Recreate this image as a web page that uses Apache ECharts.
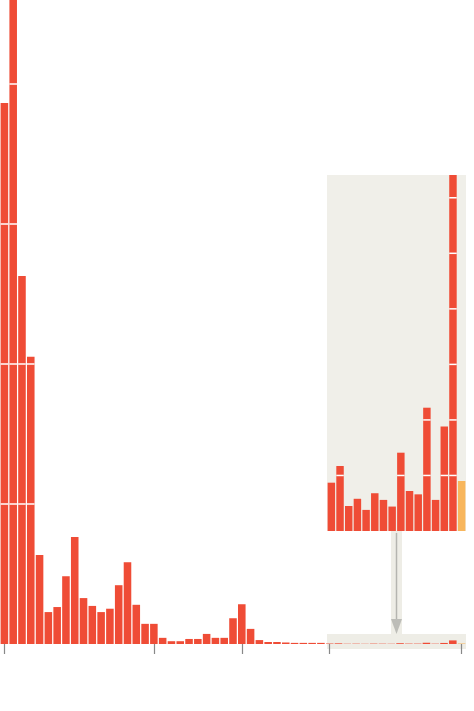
<!DOCTYPE html><html><head><meta charset="utf-8">
<script src="https://cdn.jsdelivr.net/npm/echarts@6/dist/echarts.min.js"></script>
<style>html,body{margin:0;background:#fff}#c{width:474px;height:711px}</style></head><body><div id="c"></div>
<script>
// main chart values (one gridline = 250 units); last 16 bars from the inset
const mainValues = [966,1175,657,513,159,57,66,121,191,82,68,57,63,105,146,70,36,36,11,5,5,9,9,18,11,11,46,71,27,7,3.6,3.6,2.7,2,2,2,2];
// inset values (one gridline = 1 unit)
const insetValues = [0.87,1.17,0.45,0.58,0.38,0.68,0.56,0.44,1.41,0.72,0.66,2.22,0.56,1.88,6.41,0.9];
const tickIndices = [0,17,27,37,52];
const allValues = mainValues.concat(insetValues);
const cats = allValues.map((v,i)=>String(i));
const insetCats = insetValues.map((v,i)=>String(i));
const RED='#ef4c36', ORANGE='#f8b65c';
function makeRender(step, lastIdx){
  return function(params, api){
    const i=api.value(0), v=api.value(1);
    const top=api.coord([i,v]), base=api.coord([i,0]);
    const w=api.size([1,0])[0]*0.86;
    const cs=params.coordSys;
    const x=top[0]-w/2;
    let y=Math.max(top[1],cs.y);
    const h=base[1]-y;
    const children=[{type:'rect',shape:{x:x,y:y,width:w,height:Math.max(h,0.8)},style:{fill:i===lastIdx?ORANGE:RED}}];
    for(let k=step;k<v;k+=step){
      const ly=api.coord([i,k])[1];
      if(ly<cs.y) break;
      children.push({type:'line',shape:{x1:x,y1:ly,x2:x+w,y2:ly},style:{stroke:'#fff',lineWidth:1.5}});
    }
    return {type:'group',children:children};
  };
}
const chart=echarts.init(document.getElementById('c'));
chart.setOption({
  animation:false,
  grid:[{left:0,right:8,top:0,bottom:67},
        {left:327,right:8,top:175,bottom:180,show:true,backgroundColor:'#f0efe9',borderWidth:0}],
  xAxis:[{type:'category',data:cats,gridIndex:0,boundaryGap:true,
          axisLine:{show:false},axisLabel:{show:false},
          axisTick:{show:true,alignWithLabel:true,length:10,lineStyle:{color:'#888',width:1.2},
                    interval:(idx)=>tickIndices.includes(idx)}},
         {type:'category',data:insetCats,gridIndex:1,show:false}],
  yAxis:[{type:'value',gridIndex:0,min:0,max:1150,show:false},
         {type:'value',gridIndex:1,min:0,max:6.41,show:false}],
  graphic:[
    {type:'rect',z:0,shape:{x:327,y:634,width:139,height:15},style:{fill:'#eeede6'}},
    {type:'rect',z:0,shape:{x:391,y:531,width:11,height:103},style:{fill:'#eeede6'}},
    {type:'line',z:1,shape:{x1:396.5,y1:533,x2:396.5,y2:622},style:{stroke:'#b5b5b0',lineWidth:1.5}},
    {type:'polygon',z:1,shape:{points:[[391,619],[402,619],[396.5,634]]},style:{fill:'#bdbdb8'}}
  ],
  series:[
    {type:'custom',xAxisIndex:0,yAxisIndex:0,z:3,renderItem:makeRender(250,52),
     data:allValues.map((v,i)=>[i,v]),clip:true},
    {type:'custom',xAxisIndex:1,yAxisIndex:1,z:3,renderItem:makeRender(1,15),
     data:insetValues.map((v,i)=>[i,v])}
  ]
});
</script></body></html>
